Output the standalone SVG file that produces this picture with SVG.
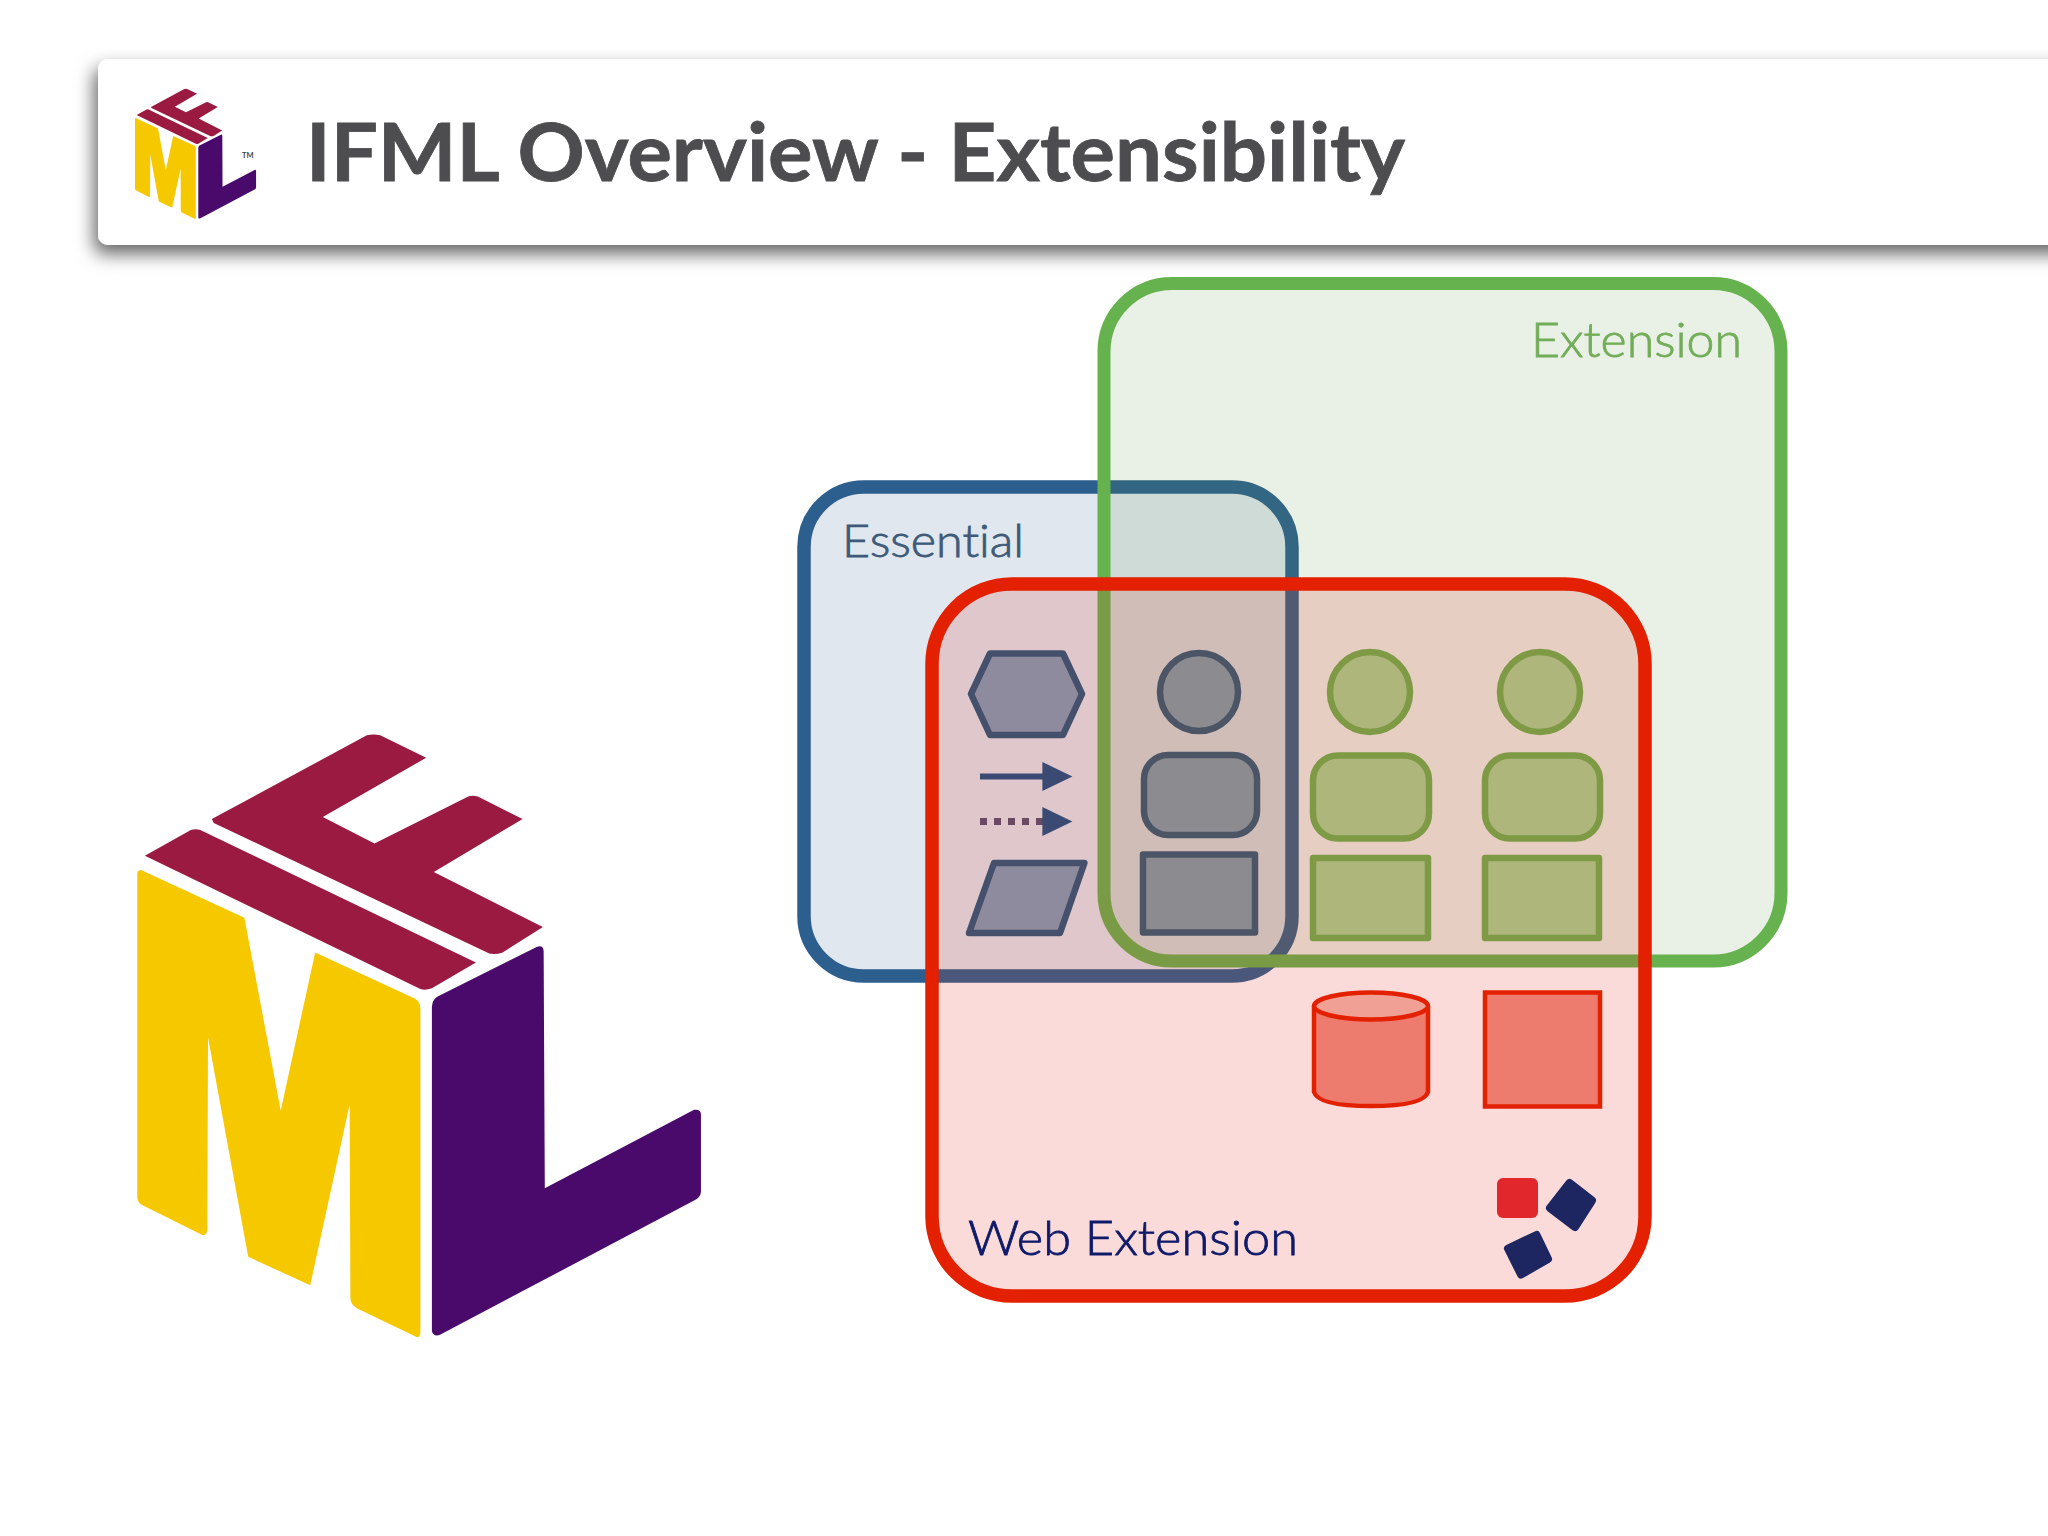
<svg xmlns="http://www.w3.org/2000/svg" xmlns:xlink="http://www.w3.org/1999/xlink" width="2048" height="1536" viewBox="0 0 2048 1536">
<style>
text{font-family:"Lato","Open Sans","Liberation Sans",sans-serif;font-variant-ligatures:none}
.lbl{font-weight:300;stroke-width:.8}
.blue{fill:#8f8b9e;stroke:#44506c;stroke-width:6.5;stroke-linejoin:round}
.grey{fill:#8c8b90;stroke:#4b5565;stroke-width:6.5;stroke-linejoin:round}
.olive{fill:#aeb67c;stroke:#7e9a45;stroke-width:6.5;stroke-linejoin:round}
.red{fill:#ee7c6e;stroke:#e32000;stroke-width:4.500}
.dk{fill:#1d2661;stroke:#1d2661;stroke-width:8;stroke-linejoin:round}
.head{fill:#3a4a72}
</style>
<defs>
<filter id="sh" x="-5%" y="-30%" width="110%" height="170%"><feDropShadow dx="-4" dy="9" stdDeviation="9" flood-color="#000" flood-opacity=".6"/></filter>
<g id="logo">
<path fill="#9b1a42" d="M65 335L185 272Q198 268 210 272L930 597L815 660Q798 666 785 662Z"/>
<path fill="#9b1a42" d="M240 245L645 40Q662 36 680 40L800 95L530 240L665 305L910 190Q922 186 935 190L1052 245L820 375L1105 510L1000 572Q982 578 965 575L245 255Z"/>
<path fill="#f5c800" d="M45 380Q46 370 55 370L325 487L420 960L510 572L770 685Q785 692 785 710L785 1505Q783 1517 775 1515L620 1445Q602 1435 602 1420L600 945L497 1388L335 1318L230 780L228 1255Q224 1267 215 1265L55 1190Q45 1183 45 1170Z"/>
<path fill="#4a0a6b" d="M815 705Q816 688 830 680L1090 558Q1107 554 1107 570L1110 1150L1500 958Q1518 955 1518 970L1518 1160Q1516 1174 1500 1180L835 1510Q818 1514 815 1500Z"/>
</g>
</defs>
<rect width="2048" height="1536" fill="#fff"/>
<g id="header">
<rect x="98" y="59" width="2000" height="186" rx="10" fill="#fff" filter="url(#sh)"/>
<use xlink:href="#logo" href="#logo" transform="translate(131.300 85.500) scale(.0822 .0881)"/>
<text x="242" y="158" font-size="7.500" font-weight="700" fill="#444">TM</text>
<text x="306" y="181" font-size="81" font-weight="700" fill="#4d4d4f" stroke="#4d4d4f" stroke-width=".8" textLength="1099" lengthAdjust="spacingAndGlyphs">IFML Overview - Extensibility</text>
</g>
<g id="big-logo"><use xlink:href="#logo" href="#logo" transform="translate(120 719) scale(.3827 .408)"/></g>
<g id="essential">
<rect x="804" y="487" width="488" height="489" rx="60" fill="#23558c" fill-opacity=".14" stroke="#2c5f8d" stroke-width="13.500"/>
<text class="lbl" x="842" y="557" font-size="45" fill="#3e5a78" stroke="#3e5a78" textLength="182" lengthAdjust="spacingAndGlyphs">Essential</text>
</g>
<g id="extension">
<rect x="1104" y="283.500" width="677" height="677.500" rx="68" fill="#649646" fill-opacity=".14" stroke="#66b24e" stroke-width="13"/>
<text class="lbl" x="1531" y="357" font-size="47" fill="#72ad58" stroke="#72ad58" textLength="211" lengthAdjust="spacingAndGlyphs">Extension</text>
</g>
<g id="web-extension">
<rect x="932" y="584" width="713" height="712" rx="80" fill="#e1281e" fill-opacity=".17" stroke="#e32000" stroke-width="13.500"/>
<text class="lbl" x="968" y="1255" font-size="47" fill="#0f1a6a" stroke="#0f1a6a" textLength="330" lengthAdjust="spacingAndGlyphs">Web Extension</text>
</g>
<g id="hexagon"><path class="blue" d="M971 694L990 653.500H1063L1082 694L1063 735H990Z"/></g>
<g id="parallelogram"><path class="blue" d="M994 863H1084.400L1060 933H969Z"/></g>
<g id="connectors" fill="none">
<path d="M980 776.500H1044" stroke="#3a4a72" stroke-width="6"/>
<path class="head" d="M1042.400 762L1072.400 776.500L1042.400 791Z"/>
<path d="M980 821.600H1044" stroke="#6a4a62" stroke-width="7" stroke-dasharray="7 7"/>
<path class="head" d="M1042.400 807L1072.400 821.600L1042.400 836Z"/>
</g>
<g id="grey-col">
<circle class="grey" cx="1199" cy="692" r="39"/>
<rect class="grey" x="1144" y="755" width="113" height="80" rx="24"/>
<rect class="grey" x="1143" y="854.500" width="112" height="78"/>
</g>
<g id="olive-col-1">
<circle class="olive" cx="1370" cy="692" r="40"/>
<rect class="olive" x="1313" y="755.500" width="116" height="83" rx="25"/>
<rect class="olive" x="1313" y="858" width="115" height="80"/>
</g>
<g id="olive-col-2">
<circle class="olive" cx="1540" cy="692" r="40"/>
<rect class="olive" x="1485" y="755.500" width="115" height="83" rx="25"/>
<rect class="olive" x="1485" y="858" width="114" height="80"/>
</g>
<g id="cylinder">
<path class="red" d="M1314 1006V1092Q1318 1106 1371 1106Q1424 1106 1428 1092V1006"/>
<ellipse cx="1371" cy="1006" rx="57" ry="13.500" fill="#f0a095" stroke="#e32000" stroke-width="4.500"/>
</g>
<g id="square"><rect class="red" x="1485" y="992.500" width="115" height="114"/></g>
<g id="icons">
<rect x="1497" y="1178" width="41" height="40" rx="6" fill="#e1272b"/>
<path class="dk" d="M1569.500 1183L1592 1200.500L1575 1227L1550 1208Z"/>
<path class="dk" d="M1536.500 1235L1548 1259L1521 1274.500L1508 1248.500Z"/>
</g>
</svg>
